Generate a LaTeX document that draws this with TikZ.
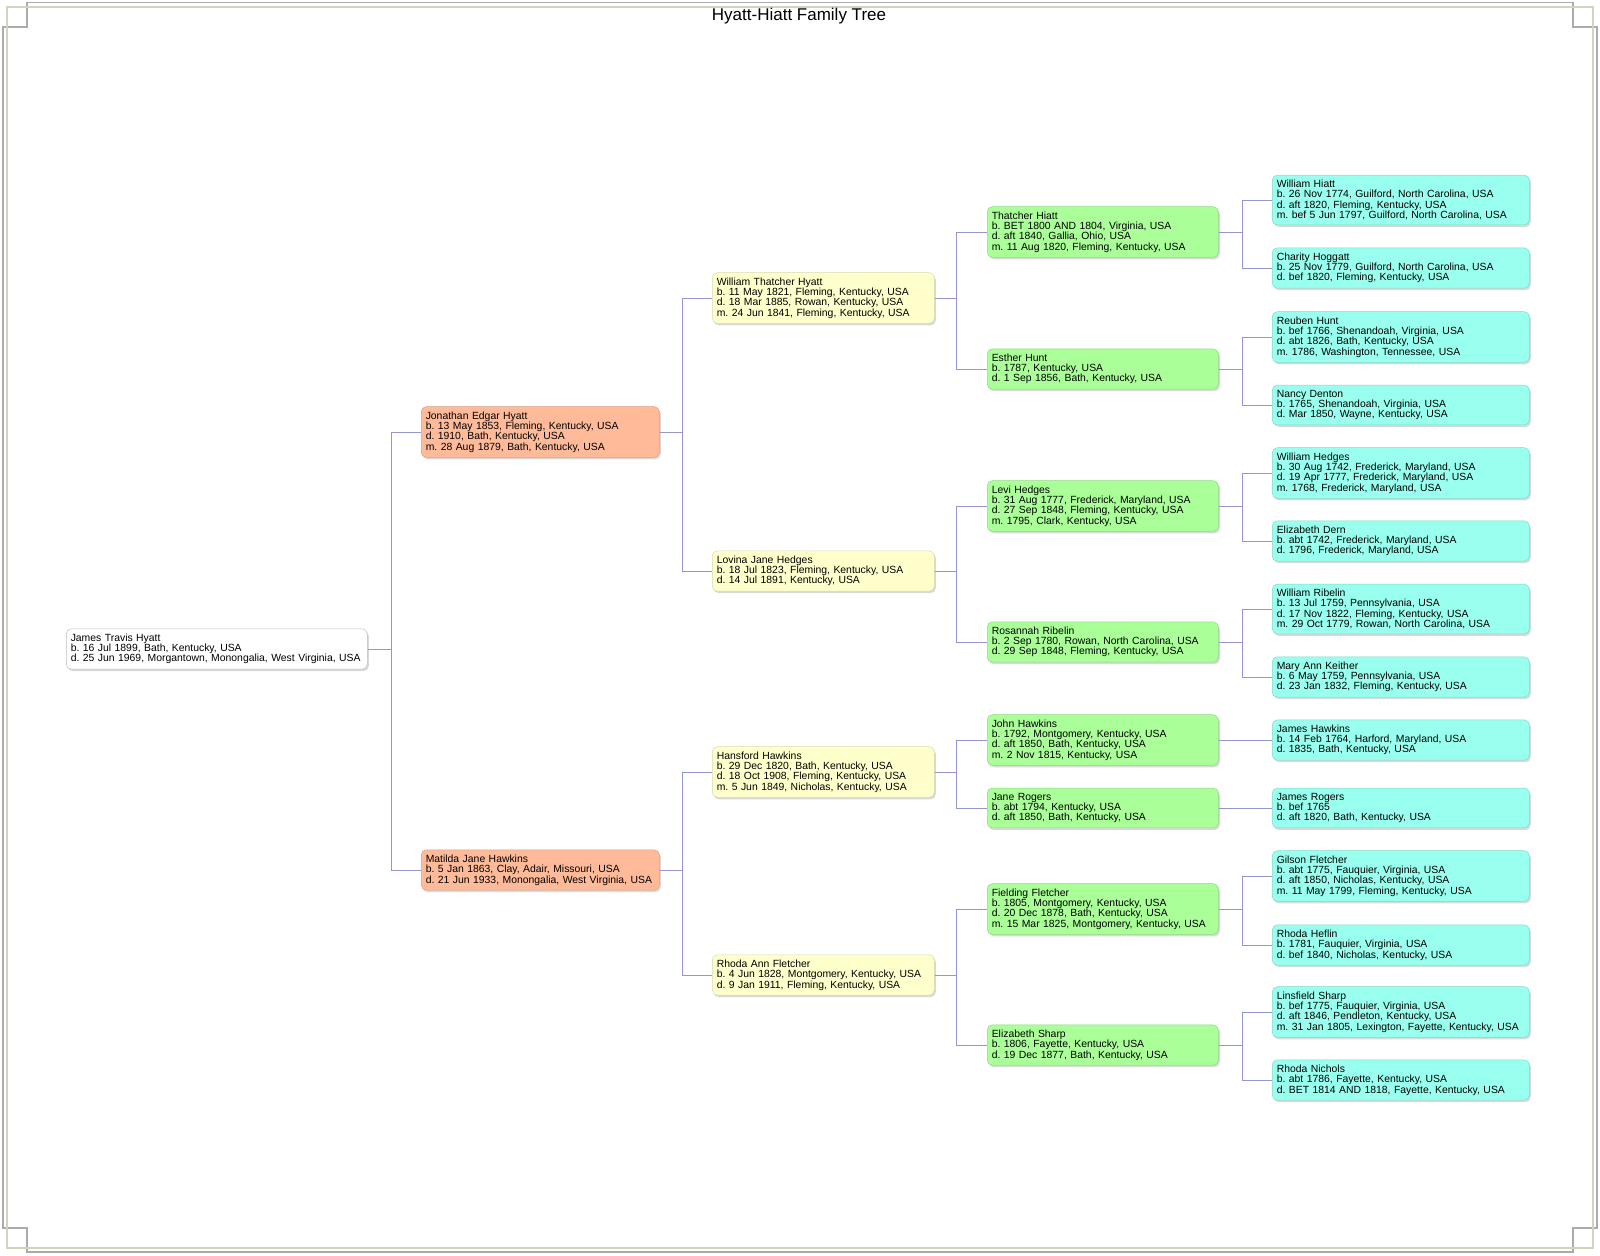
\documentclass[tikz,border=0pt]{standalone}
\usepackage{fontspec}
\setmainfont{Liberation Sans}
\usetikzlibrary{shadows}
\frenchspacing

\definecolor{salmon}{HTML}{FFBB99}
\definecolor{cream}{HTML}{FFFFCC}
\definecolor{mint}{HTML}{AAFF99}
\definecolor{aqua}{HTML}{99FFEE}
\definecolor{linkcol}{HTML}{9595D2}
\definecolor{framegray}{HTML}{ABABAB}
\definecolor{framebeige}{HTML}{D4D4BE}

\begin{document}
\begin{tikzpicture}[x=1pt,y=-1pt]

\tikzset{person/.style={anchor=west, rounded corners=5pt, align=left,
    inner xsep=4.5pt, inner ysep=5pt, line width=0.5pt,
    font=\fontsize{10.4}{10.3}\selectfont,
    drop shadow={shadow xshift=1.5pt,shadow yshift=-2pt,opacity=0.25,fill=black!60}},
  gen0/.style={person, draw=black!25, fill=white, text width=292pt},
  gen1/.style={person, draw=salmon!85!black, fill=salmon, text width=229pt},
  gen2/.style={person, draw=cream!85!black, fill=cream, text width=213pt},
  gen3/.style={person, draw=mint!85!black, fill=mint, text width=222pt},
  gen4/.style={person, draw=aqua!85!black, fill=aqua, text width=248pt},
  link/.style={draw=linkcol, line width=0.9pt}
}

\useasboundingbox (0,0) rectangle (1600,1255);

%% Frame
\draw[framegray, line width=1.3pt] (27,2.5) -- (1573,2.5) -- (1573,27) -- (1597,27) -- (1597,1228)
  -- (1573,1228) -- (1573,1252) -- (27,1252) -- (27,1228) -- (3,1228) -- (3,27) -- (27,27) -- cycle;
\draw[framebeige, line width=1.3pt] (7,7) rectangle (1593,1248);

\node[font=\fontsize{17}{20}\selectfont] (title) at (799,16) {Hyatt-Hiatt Family Tree};

%% Root
\node[gen0] (root) at (66,649) {James Travis Hyatt\\b. 16 Jul 1899, Bath, Kentucky, USA\\d. 25 Jun 1969, Morgantown, Monongalia, West Virginia, USA};

%% Parents
\node[gen1] (jonathan) at (421,432) {Jonathan Edgar Hyatt\\b. 13 May 1853, Fleming, Kentucky, USA\\d. 1910, Bath, Kentucky, USA\\m. 28 Aug 1879, Bath, Kentucky, USA};
\node[gen1] (matilda) at (421,870) {Matilda Jane Hawkins\\b. 5 Jan 1863, Clay, Adair, Missouri, USA\\d. 21 Jun 1933, Monongalia, West Virginia, USA};

%% Grandparents
\node[gen2] (wthyatt) at (712,298) {William Thatcher Hyatt\\b. 11 May 1821, Fleming, Kentucky, USA\\d. 18 Mar 1885, Rowan, Kentucky, USA\\m. 24 Jun 1841, Fleming, Kentucky, USA};
\node[gen2] (lovina) at (712,571) {Lovina Jane Hedges\\b. 18 Jul 1823, Fleming, Kentucky, USA\\d. 14 Jul 1891, Kentucky, USA};
\node[gen2] (hansford) at (712,772) {Hansford Hawkins\\b. 29 Dec 1820, Bath, Kentucky, USA\\d. 18 Oct 1908, Fleming, Kentucky, USA\\m. 5 Jun 1849, Nicholas, Kentucky, USA};
\node[gen2] (rhodaann) at (712,975) {Rhoda Ann Fletcher\\b. 4 Jun 1828, Montgomery, Kentucky, USA\\d. 9 Jan 1911, Fleming, Kentucky, USA};

%% Great-grandparents
\node[gen3] (thatcher) at (987,232) {Thatcher Hiatt\\b. BET 1800 AND 1804, Virginia, USA\\d. aft 1840, Gallia, Ohio, USA\\m. 11 Aug 1820, Fleming, Kentucky, USA};
\node[gen3] (esther) at (987,369) {Esther Hunt\\b. 1787, Kentucky, USA\\d. 1 Sep 1856, Bath, Kentucky, USA};
\node[gen3] (levi) at (987,506) {Levi Hedges\\b. 31 Aug 1777, Frederick, Maryland, USA\\d. 27 Sep 1848, Fleming, Kentucky, USA\\m. 1795, Clark, Kentucky, USA};
\node[gen3] (rosannah) at (987,642) {Rosannah Ribelin\\b. 2 Sep 1780, Rowan, North Carolina, USA\\d. 29 Sep 1848, Fleming, Kentucky, USA};
\node[gen3] (johnh) at (987,740) {John Hawkins\\b. 1792, Montgomery, Kentucky, USA\\d. aft 1850, Bath, Kentucky, USA\\m. 2 Nov 1815, Kentucky, USA};
\node[gen3] (janer) at (987,808) {Jane Rogers\\b. abt 1794, Kentucky, USA\\d. aft 1850, Bath, Kentucky, USA};
\node[gen3] (fielding) at (987,909) {Fielding Fletcher\\b. 1805, Montgomery, Kentucky, USA\\d. 20 Dec 1878, Bath, Kentucky, USA\\m. 15 Mar 1825, Montgomery, Kentucky, USA};
\node[gen3] (elizsharp) at (987,1045) {Elizabeth Sharp\\b. 1806, Fayette, Kentucky, USA\\d. 19 Dec 1877, Bath, Kentucky, USA};

%% Great-great-grandparents
\node[gen4] (whiatt) at (1272,200) {William Hiatt\\b. 26 Nov 1774, Guilford, North Carolina, USA\\d. aft 1820, Fleming, Kentucky, USA\\m. bef 5 Jun 1797, Guilford, North Carolina, USA};
\node[gen4] (charity) at (1272,268) {Charity Hoggatt\\b. 25 Nov 1779, Guilford, North Carolina, USA\\d. bef 1820, Fleming, Kentucky, USA};
\node[gen4] (reuben) at (1272,337) {Reuben Hunt\\b. bef 1766, Shenandoah, Virginia, USA\\d. abt 1826, Bath, Kentucky, USA\\m. 1786, Washington, Tennessee, USA};
\node[gen4] (nancy) at (1272,405) {Nancy Denton\\b. 1765, Shenandoah, Virginia, USA\\d. Mar 1850, Wayne, Kentucky, USA};
\node[gen4] (whedges) at (1272,473) {William Hedges\\b. 30 Aug 1742, Frederick, Maryland, USA\\d. 19 Apr 1777, Frederick, Maryland, USA\\m. 1768, Frederick, Maryland, USA};
\node[gen4] (edern) at (1272,541) {Elizabeth Dern\\b. abt 1742, Frederick, Maryland, USA\\d. 1796, Frederick, Maryland, USA};
\node[gen4] (wribelin) at (1272,609) {William Ribelin\\b. 13 Jul 1759, Pennsylvania, USA\\d. 17 Nov 1822, Fleming, Kentucky, USA\\m. 29 Oct 1779, Rowan, North Carolina, USA};
\node[gen4] (maryann) at (1272,677) {Mary Ann Keither\\b. 6 May 1759, Pennsylvania, USA\\d. 23 Jan 1832, Fleming, Kentucky, USA};
\node[gen4] (jhawkins) at (1272,740) {James Hawkins\\b. 14 Feb 1764, Harford, Maryland, USA\\d. 1835, Bath, Kentucky, USA};
\node[gen4] (jrogers) at (1272,808) {James Rogers\\b. bef 1765\\d. aft 1820, Bath, Kentucky, USA};
\node[gen4] (gilson) at (1272,876) {Gilson Fletcher\\b. abt 1775, Fauquier, Virginia, USA\\d. aft 1850, Nicholas, Kentucky, USA\\m. 11 May 1799, Fleming, Kentucky, USA};
\node[gen4] (rheflin) at (1272,945) {Rhoda Heflin\\b. 1781, Fauquier, Virginia, USA\\d. bef 1840, Nicholas, Kentucky, USA};
\node[gen4] (linsfield) at (1272,1012) {Linsfield Sharp\\b. bef 1775, Fauquier, Virginia, USA\\d. aft 1846, Pendleton, Kentucky, USA\\m. 31 Jan 1805, Lexington, Fayette, Kentucky, USA};
\node[gen4] (rnichols) at (1272,1080) {Rhoda Nichols\\b. abt 1786, Fayette, Kentucky, USA\\d. BET 1814 AND 1818, Fayette, Kentucky, USA};

%% Links
\coordinate (t1) at (391,0);
\coordinate (t2) at (682,0);
\coordinate (t3) at (956,0);
\coordinate (t4) at (1242,0);

\foreach \p/\a/\b/\t in {root/jonathan/matilda/t1, jonathan/wthyatt/lovina/t2, matilda/hansford/rhodaann/t2,
    wthyatt/thatcher/esther/t3, lovina/levi/rosannah/t3, hansford/johnh/janer/t3, rhodaann/fielding/elizsharp/t3,
    thatcher/whiatt/charity/t4, esther/reuben/nancy/t4, levi/whedges/edern/t4, rosannah/wribelin/maryann/t4,
    fielding/gilson/rheflin/t4, elizsharp/linsfield/rnichols/t4}{
  \draw[link] (\p.east) -- (\p.east -| \t);
  \draw[link] (\a.west) -- (\a.west -| \t) -- (\b.west -| \t) -- (\b.west);
}
\draw[link] (johnh.east) -- (jhawkins.west);
\draw[link] (janer.east) -- (jrogers.west);

\end{tikzpicture}
\end{document}
